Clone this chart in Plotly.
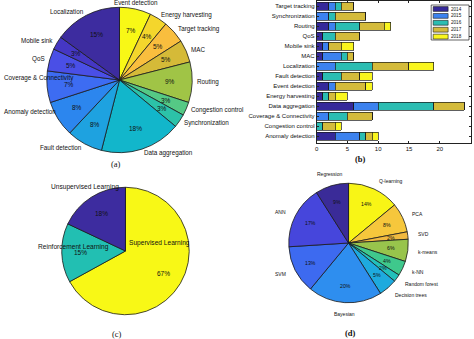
import math
import plotly.graph_objects as go

W, H = 474, 339

# ---------------- data ----------------
a_labels = ["Localization", "Mobile sink", "QoS", "Coverage & Connectivity", "Anomaly detection",
            "Fault detection", "Data aggregation", "Synchronization", "Congestion control",
            "Routing", "MAC", "Target tracking", "Energy harvesting", "Event detection"]
a_values = [15, 3, 5, 7, 8, 8, 18, 3, 3, 9, 5, 5, 4, 7]

b_categories = ["Anomaly detection", "Congestion control", "Coverage & Connectivity", "Data aggregation",
                "Energy harvesting", "Event detection", "Fault detection", "Localization", "MAC",
                "Mobile sink", "QoS", "Routing", "Synchronization", "Target tracking"]
b_years = ["2014", "2015", "2016", "2017", "2018"]
b_2014 = [3, 0, 0, 6, 1, 2, 1, 0, 1, 1, 1, 2, 0, 2]
b_2015 = [4, 0, 2, 4, 0, 1, 0, 3, 3, 1, 0, 1, 2, 1]
b_2016 = [1, 1, 3, 9, 1, 0, 3, 6, 1, 0, 2, 4, 1, 1]
b_2017 = [1, 2, 4, 5, 1, 5, 3, 6, 1, 2, 4, 4, 5, 2]
b_2018 = [1, 1, 0, 0, 2, 1, 2, 4, 0, 2, 0, 1, 0, 0]
b_ticks = [0, 5, 10, 15, 20, 25]

c_labels = ["Unsupervised Learning", "Reinforcement Learning", "Supervised Learning"]
c_values = [18, 15, 67]

d_labels = ["Regression", "ANN", "SVM", "Bayesian", "Decision trees", "Random forest",
            "k-NN", "k-means", "SVD", "PCA", "Q-learning"]
d_values = [9, 17, 13, 20, 5, 2, 4, 6, 2, 8, 14]

panel_tags = ["(a)", "(b)", "(c)", "(d)"]

# ---------------- styles ----------------
SANS = "Liberation Sans, Arial, sans-serif"
SERIF = "Liberation Serif, Times New Roman, serif"
EDGE = "#1a1a1a"

a_colors = ["#3d2c9f", "#4537c4", "#4a4fe6", "#3d6cf2", "#2c86ee", "#1ea2e0", "#12b6cb",
            "#2cc2a8", "#55c985", "#a0c446", "#d5ba38", "#f9be3e", "#f4d62c", "#f8f816"]
year_colors = ["#35299a", "#3c82ef", "#2bbdb2", "#d4bb3b", "#f9f61e"]
c_colors = ["#3d2c9f", "#22bfb2", "#f8f816"]
d_colors = ["#3a2b98", "#4646dc", "#3d6af0", "#2e8eef", "#1eaade", "#22c0ba",
            "#3fc88c", "#98c44c", "#f0b940", "#f6c73c", "#f8f516"]

# pie geometry in pixels (centre x, centre y, radius)
A_G = dict(cx=118, cy=80, r=73)
C_G = dict(cx=124, cy=251, r=64)
D_G = dict(cx=348, cy=243, r=60)

# per-label placement for pie (c): (radius factor, angle offset in degrees)
c_label_place = [(1.19, 0), (0.82, 6), (0.55, -44)]

fig = go.Figure()


def domain(g):
    return dict(x=[(g["cx"] - g["r"]) / W, (g["cx"] + g["r"]) / W],
                y=[1 - (g["cy"] + g["r"]) / H, 1 - (g["cy"] - g["r"]) / H])


def mid_angles(values):
    # slices run counter-clockwise from 12 o'clock; angle measured clockwise from top
    tot = float(sum(values))
    cum = 0.0
    out = []
    for v in values:
        out.append(-2 * math.pi * (cum + v / 2.0) / tot)
        cum += v
    return out


def polar(g, ang, rf):
    x = g["cx"] + g["r"] * rf * math.sin(ang)
    y = g["cy"] - g["r"] * rf * math.cos(ang)
    return x, y


def ann(px, py, text, size, xanchor="center", yanchor="middle", family=SANS, bold=False):
    if bold:
        text = "<b>" + text + "</b>"
    fig.add_annotation(x=px / W, y=1 - py / H, xref="paper", yref="paper", text=text,
                       showarrow=False, xanchor=xanchor, yanchor=yanchor, borderpad=0,
                       font=dict(size=size, family=family, color="#111"))


def add_pie(labels, values, colors, g):
    # counter-clockwise order from 12 o'clock == clockwise order of the reversed lists
    fig.add_trace(go.Pie(labels=labels[::-1], values=values[::-1], sort=False,
                         direction="clockwise", rotation=0, textinfo="none", showlegend=False,
                         marker=dict(colors=colors[::-1], line=dict(color=EDGE, width=0.8)),
                         domain=domain(g), hoverinfo="label+percent"))


def pct_labels(values, g, rf, size):
    tot = float(sum(values))
    for v, ang in zip(values, mid_angles(values)):
        x, y = polar(g, ang, rf)
        ann(x, y, "%d%%" % round(100 * v / tot), size)


def side_labels(labels, values, g, rf, rf_v, size):
    for lab, ang in zip(labels, mid_angles(values)):
        s = math.sin(ang)
        est_w = len(lab) * size * 0.5
        if s > 0.3:
            x, y = polar(g, ang, rf)
            ann(x, y, lab, size, xanchor="left")
        elif s < -0.3:
            x, y = polar(g, ang, rf)
            if x - est_w < 1:
                # too wide for the margin: start at the figure edge, lifted above the slice text
                ann(1, y - 4, lab, size, xanchor="left", yanchor="bottom")
            else:
                ann(x, y, lab, size, xanchor="right")
        else:
            x, y = polar(g, ang, rf_v)
            ann(x, y, lab, size, yanchor="bottom" if math.cos(ang) > 0 else "top")


# ---- pie (a)
add_pie(a_labels, a_values, a_colors, A_G)
pct_labels(a_values, A_G, 0.7, 6.5)
side_labels(a_labels, a_values, A_G, 1.05, 1.03, 6.3)

# ---- pie (c)
add_pie(c_labels, c_values, c_colors, C_G)
pct_labels(c_values, C_G, 0.7, 6.5)
for lab, ang, (rf, dth) in zip(c_labels, mid_angles(c_values), c_label_place):
    x, y = polar(C_G, ang + math.radians(dth), rf)
    ann(x, y, lab, 6.6)

# ---- pie (d)
add_pie(d_labels, d_values, d_colors, D_G)
pct_labels(d_values, D_G, 0.72, 5.2)
side_labels(d_labels, d_values, D_G, 1.15, 1.12, 5.0)

# ---- bar chart (b)
for yr, vals, col in zip(b_years, [b_2014, b_2015, b_2016, b_2017, b_2018], year_colors):
    fig.add_trace(go.Bar(y=b_categories, x=vals, orientation="h", name=yr, showlegend=False,
                         marker=dict(color=col, line=dict(color=EDGE, width=0.7)),
                         xaxis="x", yaxis="y"))

AX_X0, AX_X1 = 316, 470.5
AX_Y0, AX_Y1 = 1, 143
fig.update_layout(
    xaxis=dict(domain=[AX_X0 / W, AX_X1 / W], range=[0, 25], tickvals=b_ticks,
               ticks="inside", ticklen=2, tickcolor="#222", mirror="allticks", showline=True,
               linecolor="#222", linewidth=0.8, showgrid=False, zeroline=False,
               tickfont=dict(size=6, family=SANS, color="#111"), anchor="y"),
    yaxis=dict(domain=[1 - AX_Y1 / H, 1 - AX_Y0 / H], range=[-0.7, 13.5], type="category",
               categoryorder="array", categoryarray=b_categories,
               ticks="inside", ticklen=2, tickcolor="#222", mirror="allticks", showline=True,
               linecolor="#222", linewidth=0.8, showgrid=False, zeroline=False,
               tickfont=dict(size=6, family=SANS, color="#111"), anchor="x"),
    barmode="stack", bargap=0.2,
)

# manual legend for (b)
LX0, LX1, LY0, LY1 = 431, 469, 5, 40
fig.add_shape(type="rect", xref="paper", yref="paper", x0=LX0 / W, x1=LX1 / W,
              y0=1 - LY1 / H, y1=1 - LY0 / H, line=dict(color="#222", width=0.7), fillcolor="white")
for i, (yr, col) in enumerate(zip(b_years, year_colors)):
    yc = 9 + i * 6.9
    fig.add_shape(type="rect", xref="paper", yref="paper", x0=433 / W, x1=448 / W,
                  y0=1 - (yc + 2.4) / H, y1=1 - (yc - 2.4) / H,
                  line=dict(color=EDGE, width=0.6), fillcolor=col)
    ann(450, yc, yr, 4.6, xanchor="left")

# panel tags
for tag, (px, py), bold in zip(panel_tags, [(114, 164), (360, 159), (115, 334), (350, 333)],
                               [False, True, False, True]):
    ann(px, py, tag, 8.5, family=SERIF, bold=bold)

fig.update_layout(width=W, height=H, margin=dict(l=0, r=0, t=0, b=0),
                  paper_bgcolor="white", plot_bgcolor="white", showlegend=False)

fig.write_html("out.html")
